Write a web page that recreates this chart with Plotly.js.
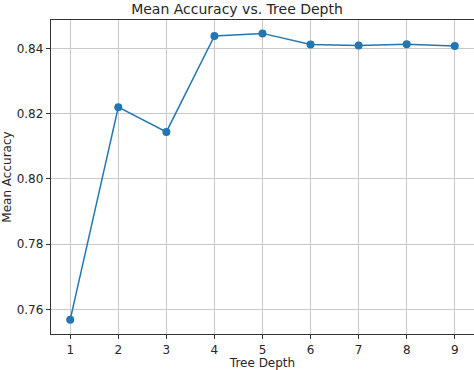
<!DOCTYPE html>
<html>
<head>
<meta charset="utf-8">
<script src="https://cdn.plot.ly/plotly-3.0.1.min.js"></script>
<style>html,body{margin:0;padding:0;background:#fff;}#chart{width:474px;height:370px;}</style>
</head>
<body>
<div id="chart"></div>
<script>
const treeDepth = [1, 2, 3, 4, 5, 6, 7, 8, 9];
const meanAccuracy = [0.7569, 0.8220, 0.8144, 0.8438, 0.8446, 0.8412, 0.8409, 0.8413, 0.8407];
const yTicks = [0.76, 0.78, 0.80, 0.82, 0.84];
const yTickLabels = ["0.76", "0.78", "0.80", "0.82", "0.84"];

const trace = {
  x: treeDepth,
  y: meanAccuracy,
  type: 'scatter',
  mode: 'lines+markers',
  line: {color: '#2277b0', width: 1.5},
  marker: {color: '#2277b0', size: 8},
  showlegend: false
};

const layout = {
  width: 474,
  height: 370,
  margin: {l: 51, r: 0, t: 20, b: 36},
  paper_bgcolor: '#ffffff',
  plot_bgcolor: '#ffffff',
  font: {family: 'DejaVu Sans', size: 12, color: '#262626'},
  title: {text: 'Mean Accuracy vs. Tree Depth', font: {family: 'DejaVu Sans', size: 14, color: '#262626'}, x: 0.5, xanchor: 'center', y: 0.99, yanchor: 'top'},
  xaxis: {
    range: [0.6, 9.4],
    tickvals: treeDepth,
    ticktext: treeDepth.map(String),
    showgrid: true, gridcolor: '#c8c8c8', gridwidth: 1,
    showline: true, linecolor: '#333333', linewidth: 1.2, mirror: true,
    ticks: 'outside', ticklen: 4, tickcolor: '#333333', tickwidth: 1,
    zeroline: false,
    title: {text: 'Tree Depth', font: {family: 'DejaVu Sans', size: 12, color: '#262626'}, standoff: 3}
  },
  yaxis: {
    range: [0.7525, 0.8487],
    tickvals: yTicks,
    ticktext: yTickLabels,
    showgrid: true, gridcolor: '#c8c8c8', gridwidth: 1,
    showline: true, linecolor: '#333333', linewidth: 1.2, mirror: true,
    ticks: 'outside', ticklen: 4, tickcolor: '#333333', tickwidth: 1,
    zeroline: false,
    title: {text: 'Mean Accuracy', font: {family: 'DejaVu Sans', size: 12, color: '#262626'}, standoff: 3}
  }
};

Plotly.newPlot('chart', [trace], layout, {staticPlot: true, displayModeBar: false});
</script>
</body>
</html>
